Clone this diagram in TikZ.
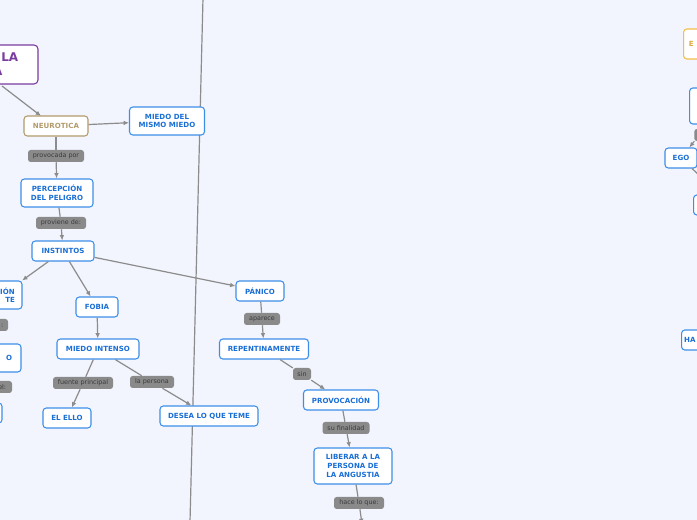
\documentclass[tikz,border=0pt]{standalone}
\usepackage{fontspec}
\setmainfont{DejaVu Sans}
\newdimen\px \px=0.75pt
\definecolor{bg}{HTML}{F2F5FE}
\definecolor{nb}{HTML}{3C8EE8}
\definecolor{nt}{HTML}{1A6FD6}
\definecolor{lb}{HTML}{8A8A8A}
\definecolor{lt}{HTML}{3A3A3A}
\definecolor{ed}{HTML}{8C8C8C}
\definecolor{tan}{HTML}{B39B6C}
\definecolor{pur}{HTML}{7A3CA0}
\definecolor{org}{HTML}{F5BE4A}
\tikzset{
 nd/.style={draw=nb,fill=white,rounded corners=2.5pt,line width=0.8pt,text=nt,font=\bfseries\fontsize{5.3}{6.4}\selectfont,align=center,inner sep=0pt,minimum height=20\px},
 lab/.style={fill=lb,rounded corners=2pt,text=lt,font=\fontsize{4.8}{5.5}\selectfont,inner sep=0pt,minimum height=12\px,minimum width=#1},
 lab/.default=40\px,
 ed/.style={draw=ed,line width=0.9pt},
 ar/.style={ed,-{Latex[length=4pt,width=3.5pt]}}
}
\usetikzlibrary{arrows.meta}
\begin{document}
\begin{tikzpicture}[x=\px,y=-\px]
\fill[bg] (0,0) rectangle (697,520);
\useasboundingbox (0,0) rectangle (697,520);
\clip (0,0) rectangle (697,520);
% long vertical line
\coordinate (vt) at (203,-2); \coordinate (vb) at (190,522);
\draw[ed] (vt) -- (vb);
% title
\node[draw=pur,fill=white,rounded corners=3pt,line width=0.8pt,minimum width=100\px,minimum height=39\px] (title) at (-12,64.5) {};
\node[text=pur,font=\bfseries\fontsize{9}{11}\selectfont,anchor=east] (t1) at (23,57) {E LA};
\node[text=pur,font=\bfseries\fontsize{9}{11}\selectfont,anchor=east] (t2) at (7,71) {A};
\node[nd,draw=tan,text=tan,minimum width=64\px] (neu) at (56,126) {NEUROTICA};
\node[nd,minimum width=75\px,minimum height=28\px] (mmm) at (167,121) {MIEDO DEL\\MISMO MIEDO};
\node[lab=56\px] (l1) at (56,156) {provocada por};
\node[nd,minimum width=72\px,minimum height=28\px] (per) at (57,193) {PERCEPCIÓN\\DEL PELIGRO};
\node[lab=50\px] (l2) at (61,223) {proviene de:};
\node[nd,minimum width=62\px] (ins) at (63,251) {INSTINTOS};
\node[nd,minimum width=40\px,minimum height=28\px] (pl1) at (2,295) {\phantom{XX}IÓN\\\phantom{XXX}TE};
\node[lab=16\px] (pl2) at (0,325) {\phantom{X}:};
\node[nd,minimum width=40\px,minimum height=28\px] (pl3) at (1,358) {\phantom{XXX}O};
\node[lab=24\px] (pl4) at (0,387) {\phantom{X}el:};
\node[nd,minimum width=24\px] (pl5) at (-10,413) {};
\node[nd,minimum width=42\px] (fob) at (97,307) {FOBIA};
\node[nd,minimum width=82\px] (mi) at (98,349) {MIEDO INTENSO};
\node[lab=60\px] (l3) at (83,383) {fuente principal};
\node[lab=44\px] (l4) at (152,382) {la persona};
\node[nd,minimum width=48\px] (ello) at (67,418) {EL ELLO};
\node[nd,minimum width=98\px] (des) at (209,416) {DESEA LO QUE TEME};
\node[nd,minimum width=48\px] (pan) at (260,291) {PÁNICO};
\node[lab=36\px] (l5) at (262,319) {aparece};
\node[nd,minimum width=89\px] (rep) at (264,349) {REPENTINAMENTE};
\node[lab=18\px] (l6) at (302,374) {sin};
\node[nd,minimum width=75\px] (pro) at (341,400) {PROVOCACIÓN};
\node[lab=47\px] (l7) at (346,428) {su finalidad};
\node[nd,minimum width=78\px,minimum height=36\px] (lib) at (353,466) {LIBERAR A LA\\PERSONA DE\\LA ANGUSTIA};
\node[lab=50\px] (l8) at (359,503) {hace lo que:};
\coordinate (lend) at (362,524);
% right side
\node[nd,draw=org,text=org!90!black,minimum width=34\px,minimum height=30\px,anchor=west] (r1) at (683,44) {\hspace{4pt}E\hspace{20pt}};
\node[nd,minimum width=30\px,minimum height=36\px,anchor=west] (r2) at (689,106) {};
\node[lab=10\px,anchor=west] (rl) at (694,135) {};
\node[nd,minimum width=32\px] (ego) at (681,158) {EGO};
\node[nd,minimum width=20\px,anchor=west] (r3) at (693,205) {};
\node[nd,minimum width=30\px,anchor=west] (r4) at (681,340) {\hspace{2pt}HA\hspace{20pt}};
\coordinate (re) at (702,178);
\coordinate (ts) at (2,86);
\coordinate (nt) at (41,116);
% edges
\draw[ar] (ts) -- (nt);
\draw[ar] (neu) -- (mmm);
\draw[ed] (neu) -- (l1); \draw[ar] (l1) -- (per);
\draw[ed] (per) -- (l2); \draw[ar] (l2) -- (ins);
\draw[ar] (ins) -- (pl1);
\draw[ar] (ins) -- (fob);
\draw[ar] (ins) -- (pan);
\draw[ar] (fob) -- (mi);
\draw[ed] (mi) -- (l3); \draw[ar] (l3) -- (ello);
\draw[ed] (mi) -- (l4); \draw[ar] (l4) -- (des);
\draw[ed] (pan) -- (l5); \draw[ar] (l5) -- (rep);
\draw[ed] (rep) -- (l6); \draw[ar] (l6) -- (pro);
\draw[ed] (pro) -- (l7); \draw[ar] (l7) -- (lib);
\draw[ed] (lib) -- (l8); \draw[ar] (l8) -- (lend);
\draw[ar] (rl) -- (ego);
\draw[ed] (ego) -- (re);
\end{tikzpicture}
\end{document}
